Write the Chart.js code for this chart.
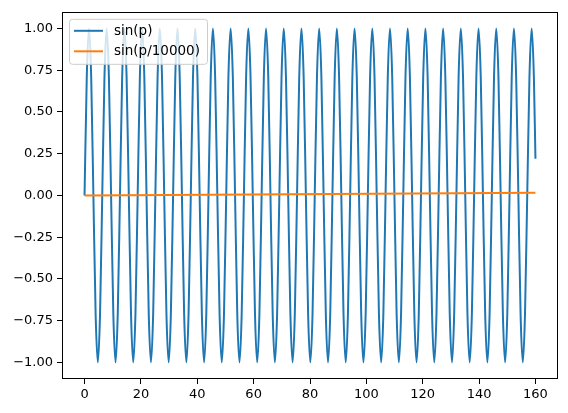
<!DOCTYPE html>
<html>
<head>
<meta charset="utf-8">
<script src="https://cdn.jsdelivr.net/npm/chart.js@4"></script>
<style>
  html, body { margin: 0; padding: 0; background: #fff; }
  #wrap { width: 568px; height: 413px; }
</style>
</head>
<body>
<div id="wrap"><canvas id="chart" width="568" height="413"></canvas></div>
<script>
const p = [
  0, 0.79, 1.57, 2.36, 3.14, 3.93, 4.71, 5.50, 6.28, 7.07, 7.85, 8.64, 9.42, 10.21, 11.00, 11.78,
  12.57, 13.35, 14.14, 14.92, 15.71, 16.49, 17.28, 18.06, 18.85, 19.63, 20.42, 21.21, 21.99, 22.78, 23.56, 24.35,
  25.13, 25.92, 26.70, 27.49, 28.27, 29.06, 29.85, 30.63, 31.42, 32.20, 32.99, 33.77, 34.56, 35.34, 36.13, 36.91,
  37.70, 38.48, 39.27, 40.06, 40.84, 41.63, 42.41, 43.20, 43.98, 44.77, 45.55, 46.34, 47.12, 47.91, 48.69, 49.48,
  50.27, 51.05, 51.84, 52.62, 53.41, 54.19, 54.98, 55.76, 56.55, 57.33, 58.12, 58.90, 59.69, 60.48, 61.26, 62.05,
  62.83, 63.62, 64.40, 65.19, 65.97, 66.76, 67.54, 68.33, 69.12, 69.90, 70.69, 71.47, 72.26, 73.04, 73.83, 74.61,
  75.40, 76.18, 76.97, 77.75, 78.54, 79.33, 80.11, 80.90, 81.68, 82.47, 83.25, 84.04, 84.82, 85.61, 86.39, 87.18,
  87.96, 88.75, 89.54, 90.32, 91.11, 91.89, 92.68, 93.46, 94.25, 95.03, 95.82, 96.60, 97.39, 98.17, 98.96, 99.75,
  100.53, 101.32, 102.10, 102.89, 103.67, 104.46, 105.24, 106.03, 106.81, 107.60, 108.38, 109.17, 109.96, 110.74, 111.53, 112.31,
  113.10, 113.88, 114.67, 115.45, 116.24, 117.02, 117.81, 118.60, 119.38, 120.17, 120.95, 121.74, 122.52, 123.31, 124.09, 124.88,
  125.66, 126.45, 127.23, 128.02, 128.81, 129.59, 130.38, 131.16, 131.95, 132.73, 133.52, 134.30, 135.09, 135.87, 136.66, 137.44,
  138.23, 139.02, 139.80, 140.59, 141.37, 142.16, 142.94, 143.73, 144.51, 145.30, 146.08, 146.87, 147.65, 148.44, 149.23, 150.01,
  150.80, 151.58, 152.37, 153.15, 153.94, 154.72, 155.51, 156.29, 157.08, 157.87, 158.65, 159.44, 160
];
const sinP = [
  0, 0.71, 1, 0.71, 0, -0.71, -1, -0.71, 0, 0.71, 1, 0.71, 0, -0.71, -1, -0.71,
  0, 0.71, 1, 0.71, 0, -0.71, -1, -0.71, 0, 0.71, 1, 0.71, 0, -0.71, -1, -0.71,
  0, 0.71, 1, 0.71, 0, -0.71, -1, -0.71, 0, 0.71, 1, 0.71, 0, -0.71, -1, -0.71,
  0, 0.71, 1, 0.71, 0, -0.71, -1, -0.71, 0, 0.71, 1, 0.71, 0, -0.71, -1, -0.71,
  0, 0.71, 1, 0.71, 0, -0.71, -1, -0.71, 0, 0.71, 1, 0.71, 0, -0.71, -1, -0.71,
  0, 0.71, 1, 0.71, 0, -0.71, -1, -0.71, 0, 0.71, 1, 0.71, 0, -0.71, -1, -0.71,
  0, 0.71, 1, 0.71, 0, -0.71, -1, -0.71, 0, 0.71, 1, 0.71, 0, -0.71, -1, -0.71,
  0, 0.71, 1, 0.71, 0, -0.71, -1, -0.71, 0, 0.71, 1, 0.71, 0, -0.71, -1, -0.71,
  0, 0.71, 1, 0.71, 0, -0.71, -1, -0.71, 0, 0.71, 1, 0.71, 0, -0.71, -1, -0.71,
  0, 0.71, 1, 0.71, 0, -0.71, -1, -0.71, 0, 0.71, 1, 0.71, 0, -0.71, -1, -0.71,
  0, 0.71, 1, 0.71, 0, -0.71, -1, -0.71, 0, 0.71, 1, 0.71, 0, -0.71, -1, -0.71,
  0, 0.71, 1, 0.71, 0, -0.71, -1, -0.71, 0, 0.71, 1, 0.71, 0, -0.71, -1, -0.71,
  0, 0.71, 1, 0.71, 0, -0.71, -1, -0.71, 0, 0.71, 1, 0.71, 0.22
];
const pSlow = [0, 160];
const sinSlow = [0, 0.016];

const xTicks = [0, 20, 40, 60, 80, 100, 120, 140, 160];
const yTicks = [-1, -0.75, -0.5, -0.25, 0, 0.25, 0.5, 0.75, 1];

const FONT = { family: "'DejaVu Sans', sans-serif", size: 13 };

// matplotlib style frame + legend inside the axes
const frameAndLegend = {
  id: "frameAndLegend",
  afterDatasetsDraw(chart) {
    const { ctx, chartArea: a } = chart;
    ctx.save();
    ctx.strokeStyle = "#000";
    ctx.lineWidth = 1;
    ctx.strokeRect(Math.round(a.left) + 0.5, Math.round(a.top) + 0.5,
      Math.round(a.right - a.left) - 1, Math.round(a.bottom - a.top) - 1);

    // legend box
    const bx = a.left + 7, by = a.top + 7, bw = 138, bh = 45;
    ctx.beginPath();
    ctx.roundRect(bx + 0.5, by + 0.5, bw, bh, 3);
    ctx.fillStyle = "rgba(255,255,255,0.8)";
    ctx.fill();
    ctx.strokeStyle = "#cccccc";
    ctx.stroke();

    ctx.font = "13.5px " + FONT.family;
    ctx.textBaseline = "middle";
    chart.data.datasets.forEach((ds, i) => {
      const y = by + 12 + i * 20.5;
      ctx.beginPath();
      ctx.moveTo(bx + 5, y);
      ctx.lineTo(bx + 34, y);
      ctx.strokeStyle = ds.borderColor;
      ctx.lineWidth = 2;
      ctx.stroke();
      ctx.fillStyle = "#000";
      ctx.fillText(ds.label, bx + 45, y + 0.5);
    });
    ctx.restore();
  }
};

new Chart(document.getElementById("chart"), {
  type: "line",
  data: {
    datasets: [
      {
        label: "sin(p)",
        data: p.map((v, i) => ({ x: v, y: sinP[i] })),
        borderColor: "#1f77b4",
        borderWidth: 2,
        pointRadius: 0,
        cubicInterpolationMode: "monotone",
        order: 1
      },
      {
        label: "sin(p/10000)",
        data: pSlow.map((v, i) => ({ x: v, y: sinSlow[i] })),
        borderColor: "#ff7f0e",
        borderWidth: 2,
        pointRadius: 0,
        order: 0
      }
    ]
  },
  options: {
    responsive: false,
    animation: false,
    devicePixelRatio: 1,
    layout: { padding: { top: 10, right: 10, left: 0, bottom: 0 } },
    plugins: { legend: { display: false }, tooltip: { enabled: false } },
    scales: {
      x: {
        type: "linear",
        min: -8,
        max: 168,
        afterBuildTicks: s => { s.ticks = xTicks.map(v => ({ value: v })); },
        afterFit: s => { s.height = 34; },
        grid: { drawOnChartArea: false, tickLength: 5, color: "#000", tickColor: "#000" },
        border: { display: false },
        ticks: { color: "#000", font: FONT, padding: 3, maxRotation: 0 }
      },
      y: {
        min: -1.1,
        max: 1.1,
        afterBuildTicks: s => { s.ticks = yTicks.map(v => ({ value: v })); },
        afterFit: s => { s.width = 62; },
        grid: { drawOnChartArea: false, tickLength: 5, color: "#000", tickColor: "#000" },
        border: { display: false },
        ticks: {
          color: "#000",
          font: FONT,
          padding: 4,
          callback: v => (v < 0 ? "\u2212" : "") + Math.abs(v).toFixed(2)
        }
      }
    }
  },
  plugins: [frameAndLegend]
});
</script>
</body>
</html>
